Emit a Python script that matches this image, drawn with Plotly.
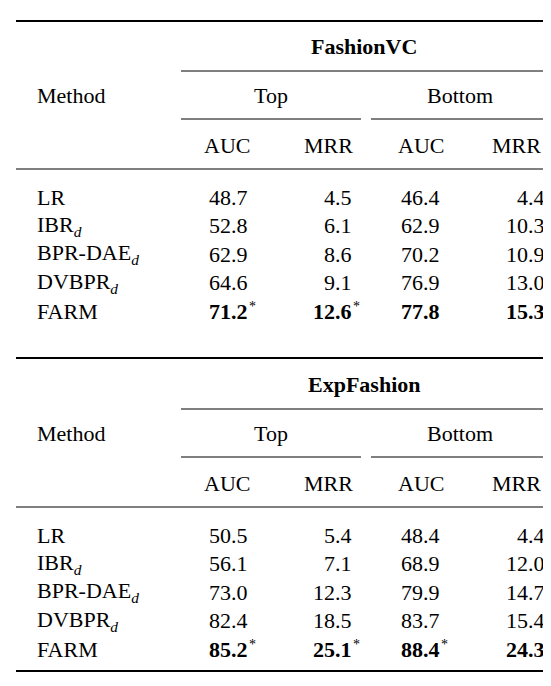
import plotly.graph_objects as go

datasets = ["FashionVC", "ExpFashion"]
methods = ["LR", "IBR<sub><i>d</i></sub>", "BPR-DAE<sub><i>d</i></sub>", "DVBPR<sub><i>d</i></sub>", "FARM"]
groups = ["Top", "Bottom"]
metrics = ["AUC", "MRR", "AUC", "MRR"]
fashionvc = [[48.7, 4.5, 46.4, 4.4], [52.8, 6.1, 62.9, 10.3], [62.9, 8.6, 70.2, 10.9],
             [64.6, 9.1, 76.9, 13.0], [71.2, 12.6, 77.8, 15.3]]
fashionvc_star = [True, True, False, True]
expfashion = [[50.5, 5.4, 48.4, 4.4], [56.1, 7.1, 68.9, 12.0], [73.0, 12.3, 79.9, 14.7],
              [82.4, 18.5, 83.7, 15.4], [85.2, 25.1, 88.4, 24.3]]
expfashion_star = [True, True, True, True]

W, H = 551, 686
OFF = 8
FONT = "Liberation Serif"
FS = 22
fig = go.Figure()
ann = []
shapes = []

def line(x0, x1, y, w):
    shapes.append(dict(type="line", x0=x0, x1=x1, y0=y, y1=y, line=dict(color="black", width=w)))

def txt(x, y, s, anchor="center", size=FS):
    ann.append(dict(x=x, y=y, text=s, showarrow=False, xanchor=anchor, yanchor="middle",
                    borderpad=0, font=dict(family=FONT, size=size, color="black")))

num_right = [231, 335, 423, 528]
metric_center = [211, 312, 405, 500]
line(0, W, 5, 2)
for k, (name, vals, stars) in enumerate([(datasets[0], fashionvc, fashionvc_star),
                                          (datasets[1], expfashion, expfashion_star)]):
    off = 338 * k
    txt(348, 30 + off, "<b>" + name + "</b>")
    line(165, 531, 55 + off, 1)
    txt(20, 79 + off, "Method", "left")
    txt(255, 79 + off, groups[0])
    txt(444, 79 + off, groups[1])
    line(165, 345, 103 + off, 1)
    line(355, 531, 103 + off, 1)
    for j, m in enumerate(metrics):
        txt(metric_center[j], 129 + off, m)
    line(0, W, 153 + off, 1)
    for i, meth in enumerate(methods):
        y = 181 + 28.6 * i + off
        txt(20, y, meth, "left")
        best = i == len(methods) - 1
        for j, v in enumerate(vals[i]):
            s = f"{v:.1f}"
            if best:
                s = "<b>" + s + "</b>"
            txt(num_right[j] + 2, y, s, "right")
            if best and stars[j]:
                ann.append(dict(x=num_right[j] + 1, y=y - 5, text="*", showarrow=False,
                                xanchor="left", yanchor="middle", borderpad=0,
                                font=dict(family=FONT, size=14, color="black")))
    line(0, W, 342 if k == 0 else 655, 2)

fig.update_layout(width=W, height=H, margin=dict(l=0, r=0, t=0, b=0),
                  plot_bgcolor="white", paper_bgcolor="white",
                  xaxis=dict(range=[-OFF, W - OFF], visible=False, fixedrange=True),
                  yaxis=dict(range=[H - OFF, -OFF], visible=False, fixedrange=True),
                  annotations=ann, shapes=shapes, showlegend=False)
fig.write_html("out.html")
